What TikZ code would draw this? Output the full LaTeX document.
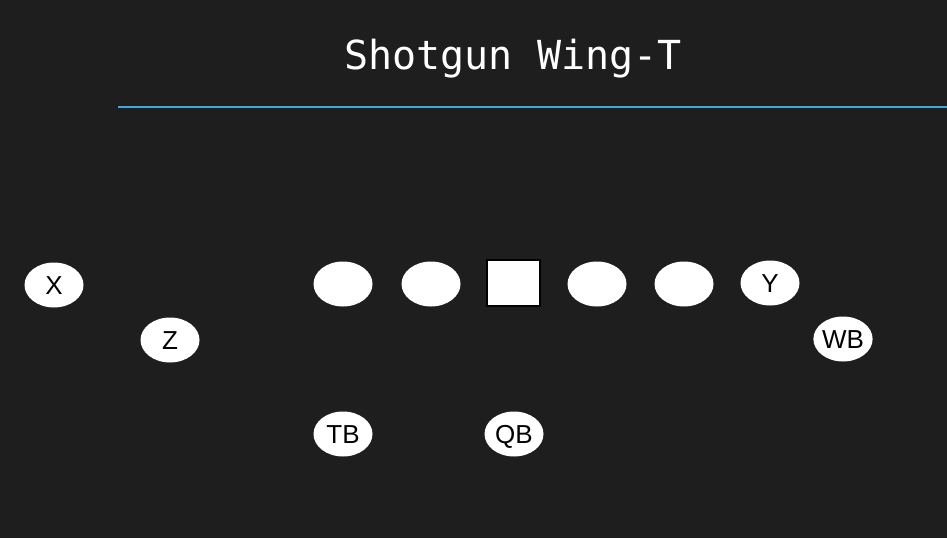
\documentclass[tikz,border=0pt]{standalone}
\usepackage{fontspec}
\setmainfont{Liberation Sans}
\newfontfamily\titlefont{DejaVu Sans Mono}
\usetikzlibrary{shapes.geometric}
\definecolor{board}{RGB}{30,30,30}
\definecolor{chalkblue}{RGB}{62,170,218}
\tikzset{
  player/.style={ellipse, fill=white, draw=none, minimum width=59pt, minimum height=45pt, inner sep=0pt, font=\fontsize{26}{26}\selectfont, text=black, text height=19pt, text depth=0pt},
  center/.style={rectangle, fill=white, draw=black, line width=1.5pt, minimum width=53pt, minimum height=46pt, inner sep=0pt},
  titletext/.style={font=\titlefont\fontsize{40}{40}\selectfont, text=white},
  rule/.style={draw=chalkblue, line width=2.5pt}
}
\begin{document}
\begin{tikzpicture}[x=1pt,y=-1pt]
\fill[board] (0,0) rectangle (947,538);
\useasboundingbox (0,0) rectangle (947,538);
\node[titletext] (title) at (513,59) {Shotgun Wing-T};
\coordinate (ruleL) at (118,107);
\coordinate (ruleR) at (947,107);
\draw[rule] (ruleL) -- (ruleR);
\node[player] (X) at (54,285) {X};
\node[player] (Z) at (170,340) {Z};
\node[player] (LT) at (343,284) {};
\node[player] (LG) at (431,284) {};
\node[center] (C) at (513.5,283) {};
\node[player] (RG) at (597,284) {};
\node[player] (RT) at (684,284) {};
\node[player] (Y) at (770,283) {Y};
\node[player] (WB) at (843,339) {WB};
\node[player] (TB) at (343,434) {TB};
\node[player] (QB) at (514,434) {QB};
\end{tikzpicture}
\end{document}
